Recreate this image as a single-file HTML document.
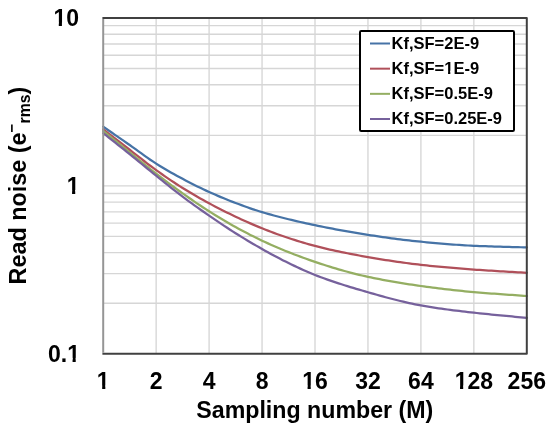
<!DOCTYPE html>
<html><head><meta charset="utf-8"><style>
html,body{margin:0;padding:0;background:#fff;}
body{width:550px;height:428px;overflow:hidden;}
svg{display:block;font-family:"Liberation Sans",Arial,sans-serif;font-weight:bold;}
</style></head><body>
<svg width="550" height="428" viewBox="0 0 550 428">
<rect width="550" height="428" fill="#fff"/>
<g stroke="#d6d6d6" stroke-width="1.35" fill="none">
<line x1="103.20" x2="526.80" y1="303.21" y2="303.21"/>
<line x1="103.20" x2="526.80" y1="273.64" y2="273.64"/>
<line x1="103.20" x2="526.80" y1="252.66" y2="252.66"/>
<line x1="103.20" x2="526.80" y1="236.39" y2="236.39"/>
<line x1="103.20" x2="526.80" y1="223.10" y2="223.10"/>
<line x1="103.20" x2="526.80" y1="211.86" y2="211.86"/>
<line x1="103.20" x2="526.80" y1="202.12" y2="202.12"/>
<line x1="103.20" x2="526.80" y1="193.53" y2="193.53"/>
<line x1="103.20" x2="526.80" y1="135.31" y2="135.31"/>
<line x1="103.20" x2="526.80" y1="105.74" y2="105.74"/>
<line x1="103.20" x2="526.80" y1="84.76" y2="84.76"/>
<line x1="103.20" x2="526.80" y1="68.49" y2="68.49"/>
<line x1="103.20" x2="526.80" y1="55.20" y2="55.20"/>
<line x1="103.20" x2="526.80" y1="43.96" y2="43.96"/>
<line x1="103.20" x2="526.80" y1="34.22" y2="34.22"/>
<line x1="103.20" x2="526.80" y1="25.63" y2="25.63"/>
<line x1="103.20" x2="526.80" y1="185.85" y2="185.85"/>
<line x1="156.15" x2="156.15" y1="17.95" y2="353.75"/>
<line x1="209.10" x2="209.10" y1="17.95" y2="353.75"/>
<line x1="262.05" x2="262.05" y1="17.95" y2="353.75"/>
<line x1="315.00" x2="315.00" y1="17.95" y2="353.75"/>
<line x1="367.95" x2="367.95" y1="17.95" y2="353.75"/>
<line x1="420.90" x2="420.90" y1="17.95" y2="353.75"/>
<line x1="473.85" x2="473.85" y1="17.95" y2="353.75"/>
</g>
<g fill="none" stroke-width="2.25" stroke-linejoin="round" stroke-linecap="round">
<path d="M103.20,126.69 L106.14,128.72 L109.08,130.76 L112.03,132.79 L114.97,134.82 L117.91,136.85 L120.85,138.88 L123.79,140.92 L126.73,142.96 L129.68,145.01 L132.62,147.08 L135.56,149.19 L138.50,151.32 L141.44,153.45 L144.38,155.57 L147.33,157.66 L150.27,159.71 L153.21,161.69 L156.15,163.60 L159.09,165.44 L162.03,167.24 L164.97,168.99 L167.92,170.72 L170.86,172.40 L173.80,174.06 L176.74,175.68 L179.68,177.28 L182.62,178.86 L185.57,180.42 L188.51,181.95 L191.45,183.46 L194.39,184.95 L197.33,186.41 L200.28,187.84 L203.22,189.25 L206.16,190.63 L209.10,191.97 L212.04,193.29 L214.98,194.58 L217.92,195.85 L220.87,197.09 L223.81,198.32 L226.75,199.51 L229.69,200.69 L232.63,201.84 L235.57,202.96 L238.52,204.07 L241.46,205.16 L244.40,206.23 L247.34,207.29 L250.28,208.32 L253.22,209.32 L256.17,210.30 L259.11,211.24 L262.05,212.15 L264.99,213.02 L267.93,213.87 L270.88,214.69 L273.82,215.49 L276.76,216.26 L279.70,217.02 L282.64,217.77 L285.58,218.50 L288.52,219.22 L291.47,219.93 L294.41,220.63 L297.35,221.31 L300.29,221.98 L303.23,222.64 L306.18,223.28 L309.12,223.92 L312.06,224.55 L315.00,225.17 L317.94,225.78 L320.88,226.39 L323.82,226.99 L326.77,227.57 L329.71,228.15 L332.65,228.72 L335.59,229.28 L338.53,229.83 L341.47,230.37 L344.42,230.90 L347.36,231.42 L350.30,231.93 L353.24,232.43 L356.18,232.92 L359.12,233.41 L362.07,233.89 L365.01,234.36 L367.95,234.82 L370.89,235.28 L373.83,235.73 L376.77,236.18 L379.72,236.62 L382.66,237.06 L385.60,237.48 L388.54,237.90 L391.48,238.30 L394.42,238.68 L397.37,239.05 L400.31,239.41 L403.25,239.77 L406.19,240.11 L409.13,240.45 L412.07,240.77 L415.02,241.09 L417.96,241.40 L420.90,241.70 L423.84,242.00 L426.78,242.29 L429.72,242.57 L432.67,242.85 L435.61,243.12 L438.55,243.38 L441.49,243.63 L444.43,243.87 L447.37,244.10 L450.32,244.32 L453.26,244.54 L456.20,244.75 L459.14,244.95 L462.08,245.15 L465.02,245.33 L467.97,245.50 L470.91,245.66 L473.85,245.80 L476.79,245.92 L479.73,246.04 L482.67,246.15 L485.62,246.24 L488.56,246.34 L491.50,246.43 L494.44,246.52 L497.38,246.60 L500.32,246.69 L503.27,246.78 L506.21,246.86 L509.15,246.94 L512.09,247.02 L515.03,247.09 L517.97,247.17 L520.92,247.25 L523.86,247.32 L526.80,247.40" stroke="#4673A6"/>
<path d="M103.20,129.29 L106.14,131.57 L109.08,133.84 L112.03,136.12 L114.97,138.39 L117.91,140.67 L120.85,142.95 L123.79,145.22 L126.73,147.49 L129.68,149.76 L132.62,152.04 L135.56,154.34 L138.50,156.65 L141.44,158.95 L144.38,161.25 L147.33,163.52 L150.27,165.76 L153.21,167.96 L156.15,170.10 L159.09,172.20 L162.03,174.27 L164.97,176.32 L167.92,178.34 L170.86,180.33 L173.80,182.29 L176.74,184.21 L179.68,186.10 L182.62,187.95 L185.57,189.77 L188.51,191.56 L191.45,193.32 L194.39,195.05 L197.33,196.75 L200.28,198.43 L203.22,200.08 L206.16,201.70 L209.10,203.30 L212.04,204.88 L214.98,206.43 L217.92,207.96 L220.87,209.47 L223.81,210.96 L226.75,212.42 L229.69,213.86 L232.63,215.28 L235.57,216.67 L238.52,218.05 L241.46,219.41 L244.40,220.75 L247.34,222.07 L250.28,223.38 L253.22,224.65 L256.17,225.90 L259.11,227.13 L262.05,228.32 L264.99,229.49 L267.93,230.63 L270.88,231.76 L273.82,232.86 L276.76,233.94 L279.70,235.00 L282.64,236.03 L285.58,237.04 L288.52,238.02 L291.47,238.98 L294.41,239.93 L297.35,240.86 L300.29,241.77 L303.23,242.65 L306.18,243.52 L309.12,244.35 L312.06,245.17 L315.00,245.95 L317.94,246.71 L320.88,247.44 L323.82,248.16 L326.77,248.85 L329.71,249.53 L332.65,250.19 L335.59,250.83 L338.53,251.46 L341.47,252.08 L344.42,252.68 L347.36,253.27 L350.30,253.85 L353.24,254.41 L356.18,254.97 L359.12,255.51 L362.07,256.04 L365.01,256.56 L367.95,257.08 L370.89,257.59 L373.83,258.09 L376.77,258.59 L379.72,259.08 L382.66,259.56 L385.60,260.03 L388.54,260.48 L391.48,260.93 L394.42,261.36 L397.37,261.78 L400.31,262.20 L403.25,262.60 L406.19,263.00 L409.13,263.39 L412.07,263.76 L415.02,264.13 L417.96,264.48 L420.90,264.82 L423.84,265.15 L426.78,265.46 L429.72,265.77 L432.67,266.07 L435.61,266.36 L438.55,266.64 L441.49,266.92 L444.43,267.19 L447.37,267.45 L450.32,267.71 L453.26,267.96 L456.20,268.21 L459.14,268.45 L462.08,268.69 L465.02,268.92 L467.97,269.15 L470.91,269.37 L473.85,269.58 L476.79,269.79 L479.73,269.99 L482.67,270.18 L485.62,270.37 L488.56,270.56 L491.50,270.74 L494.44,270.92 L497.38,271.10 L500.32,271.28 L503.27,271.46 L506.21,271.63 L509.15,271.80 L512.09,271.97 L515.03,272.13 L517.97,272.30 L520.92,272.47 L523.86,272.63 L526.80,272.80" stroke="#B0505A"/>
<path d="M103.20,131.00 L106.14,133.37 L109.08,135.74 L112.03,138.10 L114.97,140.47 L117.91,142.84 L120.85,145.21 L123.79,147.58 L126.73,149.95 L129.68,152.32 L132.62,154.70 L135.56,157.10 L138.50,159.51 L141.44,161.92 L144.38,164.32 L147.33,166.70 L150.27,169.07 L153.21,171.40 L156.15,173.70 L159.09,175.97 L162.03,178.21 L164.97,180.44 L167.92,182.64 L170.86,184.83 L173.80,186.99 L176.74,189.13 L179.68,191.25 L182.62,193.35 L185.57,195.43 L188.51,197.49 L191.45,199.54 L194.39,201.57 L197.33,203.57 L200.28,205.55 L203.22,207.50 L206.16,209.42 L209.10,211.30 L212.04,213.15 L214.98,214.99 L217.92,216.79 L220.87,218.58 L223.81,220.33 L226.75,222.06 L229.69,223.76 L232.63,225.43 L235.57,227.07 L238.52,228.68 L241.46,230.27 L244.40,231.83 L247.34,233.37 L250.28,234.88 L253.22,236.37 L256.17,237.82 L259.11,239.25 L262.05,240.65 L264.99,242.02 L267.93,243.37 L270.88,244.69 L273.82,245.99 L276.76,247.27 L279.70,248.52 L282.64,249.75 L285.58,250.96 L288.52,252.14 L291.47,253.30 L294.41,254.44 L297.35,255.56 L300.29,256.67 L303.23,257.75 L306.18,258.81 L309.12,259.85 L312.06,260.88 L315.00,261.88 L317.94,262.87 L320.88,263.84 L323.82,264.80 L326.77,265.74 L329.71,266.66 L332.65,267.57 L335.59,268.45 L338.53,269.31 L341.47,270.14 L344.42,270.96 L347.36,271.76 L350.30,272.54 L353.24,273.31 L356.18,274.06 L359.12,274.79 L362.07,275.50 L365.01,276.18 L367.95,276.83 L370.89,277.46 L373.83,278.06 L376.77,278.65 L379.72,279.22 L382.66,279.78 L385.60,280.32 L388.54,280.84 L391.48,281.36 L394.42,281.87 L397.37,282.37 L400.31,282.86 L403.25,283.34 L406.19,283.81 L409.13,284.27 L412.07,284.71 L415.02,285.15 L417.96,285.58 L420.90,286.00 L423.84,286.41 L426.78,286.81 L429.72,287.20 L432.67,287.59 L435.61,287.96 L438.55,288.33 L441.49,288.69 L444.43,289.04 L447.37,289.38 L450.32,289.71 L453.26,290.04 L456.20,290.36 L459.14,290.67 L462.08,290.97 L465.02,291.27 L467.97,291.56 L470.91,291.83 L473.85,292.10 L476.79,292.36 L479.73,292.60 L482.67,292.84 L485.62,293.07 L488.56,293.29 L491.50,293.51 L494.44,293.73 L497.38,293.94 L500.32,294.16 L503.27,294.37 L506.21,294.58 L509.15,294.79 L512.09,294.99 L515.03,295.19 L517.97,295.39 L520.92,295.60 L523.86,295.80 L526.80,296.00" stroke="#94AE62"/>
<path d="M103.20,133.10 L106.14,135.44 L109.08,137.78 L112.03,140.11 L114.97,142.45 L117.91,144.79 L120.85,147.13 L123.79,149.48 L126.73,151.83 L129.68,154.19 L132.62,156.56 L135.56,158.95 L138.50,161.35 L141.44,163.75 L144.38,166.15 L147.33,168.55 L150.27,170.95 L153.21,173.33 L156.15,175.70 L159.09,178.07 L162.03,180.44 L164.97,182.82 L167.92,185.19 L170.86,187.55 L173.80,189.88 L176.74,192.19 L179.68,194.47 L182.62,196.70 L185.57,198.89 L188.51,201.06 L191.45,203.20 L194.39,205.31 L197.33,207.40 L200.28,209.47 L203.22,211.53 L206.16,213.57 L209.10,215.60 L212.04,217.62 L214.98,219.63 L217.92,221.63 L220.87,223.61 L223.81,225.58 L226.75,227.52 L229.69,229.44 L232.63,231.33 L235.57,233.20 L238.52,235.04 L241.46,236.86 L244.40,238.66 L247.34,240.44 L250.28,242.20 L253.22,243.93 L256.17,245.64 L259.11,247.33 L262.05,249.00 L264.99,250.65 L267.93,252.28 L270.88,253.90 L273.82,255.50 L276.76,257.07 L279.70,258.62 L282.64,260.14 L285.58,261.62 L288.52,263.07 L291.47,264.49 L294.41,265.89 L297.35,267.28 L300.29,268.63 L303.23,269.96 L306.18,271.26 L309.12,272.52 L312.06,273.75 L315.00,274.93 L317.94,276.08 L320.88,277.19 L323.82,278.27 L326.77,279.33 L329.71,280.36 L332.65,281.37 L335.59,282.36 L338.53,283.34 L341.47,284.30 L344.42,285.24 L347.36,286.16 L350.30,287.07 L353.24,287.95 L356.18,288.82 L359.12,289.68 L362.07,290.54 L365.01,291.39 L367.95,292.23 L370.89,293.08 L373.83,293.92 L376.77,294.76 L379.72,295.59 L382.66,296.42 L385.60,297.22 L388.54,298.01 L391.48,298.78 L394.42,299.52 L397.37,300.25 L400.31,300.97 L403.25,301.67 L406.19,302.37 L409.13,303.04 L412.07,303.69 L415.02,304.32 L417.96,304.91 L420.90,305.46 L423.84,305.98 L426.78,306.48 L429.72,306.95 L432.67,307.41 L435.61,307.85 L438.55,308.27 L441.49,308.69 L444.43,309.09 L447.37,309.49 L450.32,309.88 L453.26,310.26 L456.20,310.63 L459.14,310.99 L462.08,311.34 L465.02,311.68 L467.97,312.02 L470.91,312.35 L473.85,312.68 L476.79,313.00 L479.73,313.31 L482.67,313.62 L485.62,313.92 L488.56,314.21 L491.50,314.51 L494.44,314.80 L497.38,315.08 L500.32,315.37 L503.27,315.65 L506.21,315.93 L509.15,316.21 L512.09,316.49 L515.03,316.76 L517.97,317.03 L520.92,317.30 L523.86,317.58 L526.80,317.85" stroke="#76619C"/>
</g>
<path d="M102.40,17.95 H526.80 V353.75 H102.40" fill="none" stroke="#404040" stroke-width="2" stroke-linejoin="round"/>
<line x1="103.20" x2="103.20" y1="18.95" y2="352.75" stroke="#959595" stroke-width="2"/>
<rect x="360" y="31" width="154" height="100" fill="#fff" stroke="#000" stroke-width="2" rx="1.2"/>
<g stroke-width="2">
<line x1="370" x2="390" y1="43.50" y2="43.50" stroke="#4673A6"/>
<line x1="370" x2="390" y1="68.67" y2="68.67" stroke="#B0505A"/>
<line x1="370" x2="390" y1="93.84" y2="93.84" stroke="#94AE62"/>
<line x1="370" x2="390" y1="119.01" y2="119.01" stroke="#76619C"/>
</g>
<g font-size="16.5" fill="#000">
<text x="391.5" y="48.70">Kf,SF=2E-9</text>
<text x="391.5" y="73.87">Kf,SF=1E-9</text>
<text x="391.5" y="99.04">Kf,SF=0.5E-9</text>
<text x="391.5" y="124.21">Kf,SF=0.25E-9</text>
</g>
<g font-size="23" fill="#000" text-anchor="middle">
<text x="103.20" y="389.4">1</text>
<text x="156.15" y="389.4">2</text>
<text x="209.10" y="389.4">4</text>
<text x="262.05" y="389.4">8</text>
<text x="315.00" y="389.4">16</text>
<text x="367.95" y="389.4">32</text>
<text x="420.90" y="389.4">64</text>
<text x="473.85" y="389.4">128</text>
<text x="526.80" y="389.4">256</text>
</g>
<g font-size="23" fill="#000" text-anchor="end">
<text x="79" y="26.35">10</text>
<text x="79.5" y="193.85">1</text>
<text x="80" y="361.75">0.1</text>
</g>
<text x="314.8" y="418.3" font-size="23.2" text-anchor="middle" fill="#000">Sampling number (M)</text>
<text transform="translate(26,185.6) rotate(-90)" font-size="23.4" text-anchor="middle" fill="#000">Read noise (e<tspan font-size="15.3" dy="-9.2">&#8722;</tspan><tspan font-size="15.8" dy="13.0">rms</tspan><tspan dy="-3.8">)</tspan></text>
<g fill="#fff">
<rect x="444.10" y="70.69" width="3.95" height="4.18"/>
<rect x="450.32" y="70.69" width="3.06" height="4.18"/>
<rect x="96.70" y="385.55" width="5.47" height="4.85"/>
<rect x="105.33" y="385.55" width="4.27" height="4.85"/>
<rect x="302.10" y="385.55" width="5.47" height="4.85"/>
<rect x="310.73" y="385.55" width="4.27" height="4.85"/>
<rect x="454.56" y="385.55" width="5.47" height="4.85"/>
<rect x="463.19" y="385.55" width="4.27" height="4.85"/>
<rect x="53.31" y="22.50" width="5.47" height="4.85"/>
<rect x="61.93" y="22.50" width="4.27" height="4.85"/>
<rect x="66.60" y="190.00" width="5.47" height="4.85"/>
<rect x="75.23" y="190.00" width="4.27" height="4.85"/>
<rect x="67.09" y="357.90" width="5.47" height="4.85"/>
<rect x="75.71" y="357.90" width="4.27" height="4.85"/>
</g>
</svg>
</body></html>
